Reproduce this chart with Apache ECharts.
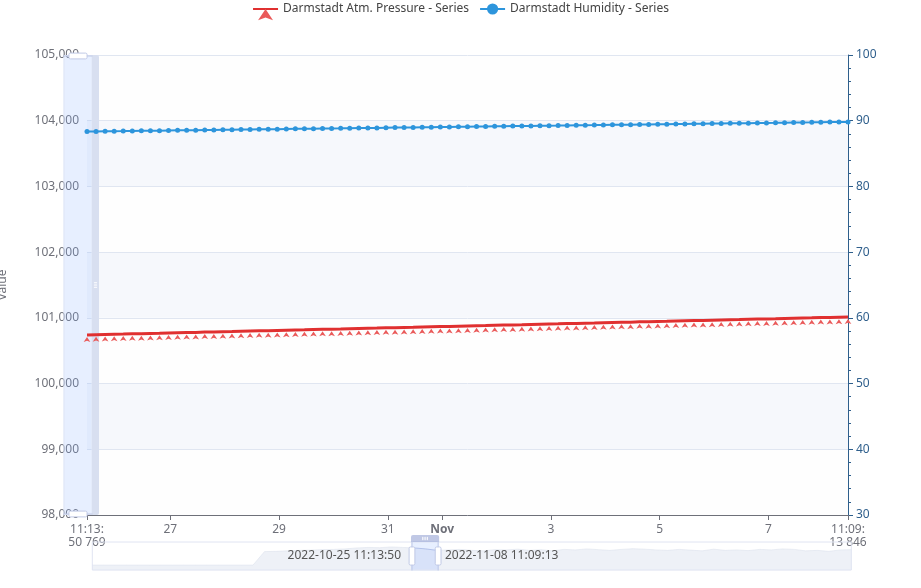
<!DOCTYPE html>
<html>
<head>
<meta charset="utf-8">
<script src="https://cdn.jsdelivr.net/npm/echarts@6/dist/echarts.min.js"></script>
<style>html,body{margin:0;padding:0;background:#fff}#c{width:921px;height:588px}</style>
</head>
<body>
<div id="c"></div>
<script>
var startTime = '2022-10-25T11:13:50.769';
var endTime = '2022-11-08T11:09:13.846';
var pressureName = 'Darmstadt Atm. Pressure - Series';
var humidityName = 'Darmstadt Humidity - Series';
var pressure = [100740,100744,100747,100750,100753,100757,100760,100763,100766,100770,
100773,100776,100779,100783,100786,100789,100792,100796,100799,100802,
100805,100809,100812,100815,100818,100822,100825,100828,100831,100835,
100838,100841,100844,100848,100851,100854,100857,100861,100864,100867,
100870,100874,100877,100880,100883,100887,100890,100893,100896,100900,
100903,100906,100909,100913,100916,100919,100922,100926,100929,100932,
100935,100939,100942,100945,100948,100952,100955,100958,100961,100965,
100968,100971,100974,100978,100981,100984,100987,100991,100994,100997,
101000,101004,101007,101010,101013];
var humidity = [88.35,88.37,88.39,88.41,88.42,88.44,88.46,88.48,88.49,88.51,
88.53,88.55,88.56,88.58,88.60,88.62,88.63,88.65,88.67,88.69,
88.70,88.72,88.74,88.76,88.77,88.79,88.81,88.83,88.84,88.86,
88.88,88.90,88.91,88.93,88.95,88.97,88.98,89.00,89.02,89.04,
89.05,89.07,89.09,89.11,89.12,89.14,89.16,89.18,89.19,89.21,
89.23,89.25,89.26,89.28,89.30,89.32,89.33,89.35,89.37,89.39,
89.40,89.42,89.44,89.46,89.47,89.49,89.51,89.53,89.54,89.56,
89.58,89.60,89.61,89.63,89.65,89.67,89.68,89.70,89.72,89.74,
89.75,89.77,89.79,89.81,89.82];
var sliderShadow = [0,0,0,0,0,0,0,0,0,0,0,0,0,0,0,
55,56,58,60,61,63,64,66,70,72,71,74,72,70,66,60,62,64,60,58,63,62,65,60,63,58,64,62,66,63,
60,64,67,65,62,60,64,61,58,65,60,62,59,64,62,66,64,58,60,56,62,63];
var sliderLabels = ['2022-10-25 11:13:50', '2022-11-08 11:09:13'];

var t0 = new Date(startTime).getTime();
var t1 = new Date(endTime).getTime();
var step = (t1 - t0) / (pressure.length - 1);
var pData = pressure.map(function (v, i) { return [t0 + i * step, v]; });
var hData = humidity.map(function (v, i) { return [t0 + i * step, v]; });
var sData = sliderShadow.map(function (v, i) { return [i, v]; });

var chart = echarts.init(document.getElementById('c'));
chart.setOption({
  animation: false,
  textStyle: { fontFamily: 'Noto Sans' },
  legend: {
    top: -2,
    itemGap: 10,
    data: [pressureName, humidityName],
    textStyle: { color: '#444', fontSize: 12 }
  },
  grid: { left: 87, right: 73, top: 55, bottom: 73, outerBoundsMode: 'none' },
  xAxis: [{
    type: 'time',
    min: t0,
    max: t1,
    axisLine: { lineStyle: { color: '#6e7079' } },
    axisLabel: {
      color: '#6e7079',
      showMinLabel: true,
      showMaxLabel: true,
      width: 40,
      overflow: 'break',
      lineHeight: 13
    },
    splitLine: { show: false }
  }, {
    type: 'value',
    show: false,
    min: 0,
    max: sliderShadow.length - 1
  }],
  yAxis: [{
    type: 'value',
    name: 'Value',
    nameLocation: 'middle',
    nameGap: 78,
    nameTextStyle: { color: '#6e7079' },
    min: 98000,
    max: 105000,
    interval: 1000,
    axisLine: { show: false },
    axisTick: { show: false },
    axisLabel: { color: '#6e7079' },
    splitArea: { show: true, areaStyle: { color: ['rgba(250,250,250,0.2)', 'rgba(210,219,238,0.2)'] } },
    splitLine: { show: true, lineStyle: { color: '#e0e6f1' } }
  }, {
    type: 'value',
    position: 'right',
    min: 30,
    max: 100,
    interval: 10,
    axisLine: { show: true, lineStyle: { color: '#2f5f8c' } },
    axisTick: { show: true },
    minorTick: { show: true, splitNumber: 5 },
    axisLabel: { color: '#2f5f8c' },
    splitLine: { show: false }
  }, {
    type: 'value',
    show: false,
    min: 0,
    max: 200
  }],
  dataZoom: [{
    type: 'slider',
    xAxisIndex: 1,
    left: 89,
    right: 72,
    top: 535,
    height: 29,
    start: 42,
    end: 45.7,
    filterMode: 'none',
    showDetail: false,
    dataBackground: {
      lineStyle: { color: '#d8deeb', opacity: 1 },
      areaStyle: { color: '#eef1f7', opacity: 1 }
    }
  }, {
    type: 'slider',
    yAxisIndex: 0,
    orient: 'vertical',
    left: 63,
    top: 55,
    bottom: 73,
    width: 29,
    start: 0,
    end: 100,
    z: 1,
    showDetail: false,
    showDataShadow: false,
    filterMode: 'none',
    borderColor: '#e0e6f5',
    moveHandleStyle: { color: '#d8dff0', opacity: 1 }
  }],
  graphic: [{
    type: 'text',
    right: 921 - 401,
    top: 550,
    z: 100,
    style: { text: sliderLabels[0], fill: '#555', font: '12px "Noto Sans"' }
  }, {
    type: 'text',
    left: 445,
    top: 550,
    z: 100,
    style: { text: sliderLabels[1], fill: '#555', font: '12px "Noto Sans"' }
  }],
  series: [{
    name: pressureName,
    type: 'line',
    xAxisIndex: 0,
    yAxisIndex: 0,
    z: 5,
    data: pData,
    symbol: 'arrow',
    symbolSize: 5,
    symbolOffset: [0, 2],
    color: '#e03030',
    lineStyle: { width: 3, color: '#e03030' },
    itemStyle: { color: '#ea5a5a' }
  }, {
    name: humidityName,
    type: 'line',
    xAxisIndex: 0,
    yAxisIndex: 1,
    z: 5,
    data: hData,
    symbol: 'circle',
    symbolSize: 5,
    color: '#2d95dc',
    lineStyle: { width: 2, color: '#2d95dc' }
  }, {
    name: 'shadow',
    type: 'line',
    xAxisIndex: 1,
    yAxisIndex: 2,
    data: sData,
    showSymbol: false,
    silent: true,
    lineStyle: { opacity: 0 },
    tooltip: { show: false }
  }]
});
</script>
</body>
</html>
